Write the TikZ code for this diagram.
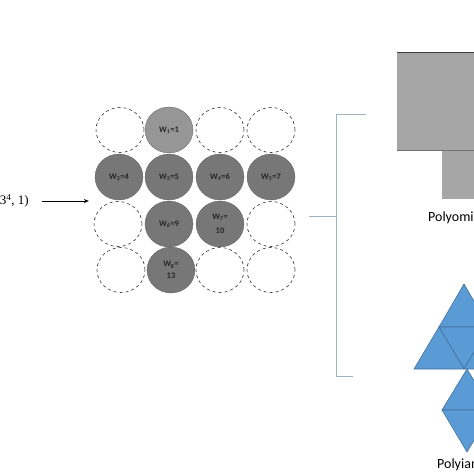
\documentclass[tikz,border=0pt]{standalone}
\usepackage{fontspec}
\setmainfont{Carlito}
\newfontfamily\serifin{Liberation Serif}
\usetikzlibrary{arrows.meta,shapes.geometric}
\definecolor{cellfill}{HTML}{777777}
\definecolor{cellfirst}{HTML}{969696}
\definecolor{omino}{HTML}{A6A6A6}
\definecolor{iamond}{HTML}{5B9BD5}
\definecolor{iamedge}{HTML}{41719C}
\definecolor{brack}{HTML}{9FB3C6}
\tikzset{
  emptycell/.style={draw=black!80, dashed, line width=0.6pt, ellipse, minimum width=48pt, minimum height=45pt, inner sep=0pt},
  fullcell/.style={draw=cellfill!80!black, line width=0.3pt, fill=cellfill, ellipse, minimum width=48pt, minimum height=46pt, inner sep=0pt, font=\bfseries\fontsize{8.5}{9}\selectfont, text=black!85, align=center},
  tri/.style={fill=iamond, draw=iamedge, line width=0.6pt, line join=round},
  capt/.style={font=\fontsize{14}{16}\selectfont, anchor=west, inner sep=0pt}
}
\begin{document}
\begin{tikzpicture}[x=1pt,y=-1pt]
\useasboundingbox (0,0) rectangle (474,474);
\clip (0,0) rectangle (474,474);
\fill[white] (0,0) rectangle (474,474);
% input label
\node[anchor=east, inner sep=0pt, font=\serifin\fontsize{13}{15}\selectfont] (in) at (29,201) {(3\textsuperscript{4}, 1)};
% grid of cells
\node[emptycell] (c11) at (120,130) {};
\node[fullcell, fill=cellfirst] (c12) at (169,130) {W\textsubscript{1}=1};
\node[emptycell] (c13) at (220,130) {};
\node[emptycell] (c14) at (271,130) {};
\node[fullcell] (c21) at (119,177) {W\textsubscript{2}=4};
\node[fullcell] (c22) at (169,177) {W\textsubscript{3}=5};
\node[fullcell] (c23) at (220,177) {W\textsubscript{4}=6};
\node[fullcell] (c24) at (271,177) {W\textsubscript{5}=7};
\node[emptycell] (c31) at (118,224) {};
\node[fullcell] (c32) at (169,224) {W\textsubscript{6}=9};
\node[fullcell] (c33) at (220,224) {W\textsubscript{7}=\\[5pt]10};
\node[emptycell] (c34) at (271,224) {};
\node[emptycell] (c41) at (121,270) {};
\node[fullcell] (c42) at (171,270) {W\textsubscript{8}=\\[3pt]13};
\node[emptycell] (c43) at (220,270) {};
\node[emptycell] (c44) at (271,270) {};
% arrow
\draw[-{Stealth[length=5pt,width=4pt]}, line width=0.6pt] ([xshift=13pt]in.east) -- ([xshift=-6pt]in.east -| c21.west);
% bracket
\coordinate (btop) at (336,114);
\coordinate (bbot) at (336,376);
\coordinate (bmid) at (336,216);
\draw[brack, line width=0.8pt] (366,114) -- (btop) -- (bbot) -- (353,376);
\draw[brack, line width=0.8pt] (309,216) -- (bmid);
% polyomino
\fill[omino] (397,52) rectangle (480,150);
\fill[omino] (442,150) rectangle (480,199);
\draw[black!75, line width=1pt] (397,52.5) -- (480,52.5);
\draw[black!55, line width=0.6pt] (397,150) -- (480,150);
\node[capt] (po) at (428,218) {Polyomino};
% polyiamond
\coordinate (t0) at (464,284);
\coordinate (a1) at (439,327);
\coordinate (a2) at (489,327);
\coordinate (b1) at (414,369);
\coordinate (b2) at (464,369);
\coordinate (b3) at (514,369);
\coordinate (d1) at (442,410);
\coordinate (d2) at (492,410);
\coordinate (e0) at (467,452);
\coordinate (u0) at (467,369);
\draw[tri] (t0) -- (a1) -- (a2) -- cycle;
\draw[tri] (a1) -- (a2) -- (b2) -- cycle;
\draw[tri] (a1) -- (b1) -- (b2) -- cycle;
\draw[tri] (a2) -- (b2) -- (b3) -- cycle;
\draw[tri] (u0) -- (d1) -- (d2) -- cycle;
\draw[tri] (d1) -- (d2) -- (e0) -- cycle;
\node[capt] (pa) at (437,465) {Polyiamond};
\end{tikzpicture}
\end{document}
